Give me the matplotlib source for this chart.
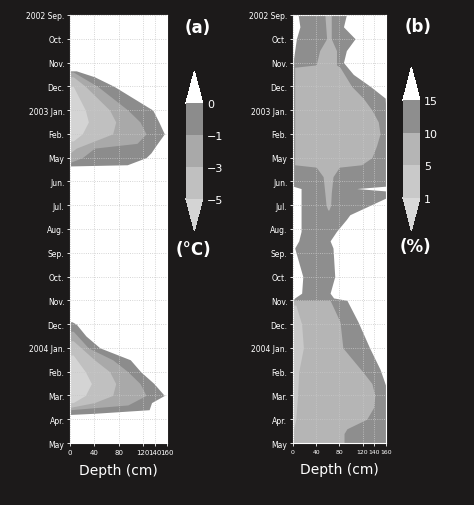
import numpy as np
import matplotlib as mpl

mpl.use("Agg")
import matplotlib.pyplot as plt
from matplotlib.colors import ListedColormap, BoundaryNorm
from matplotlib.colorbar import ColorbarBase

BG = "#1c1a1a"

# time axis: month ticks from Sep 2002 (0) to May 2004 (18)
month_labels = ["2002 Sep.", "Oct.", "Nov.", "Dec.", "2003 Jan.", "Feb.", "May", "Jun.",
                "Jul.", "Aug.", "Sep.", "Oct.", "Nov.", "Dec.", "2004 Jan.", "Feb.",
                "Mar.", "Apr.", "May"]
depth_ticks = [0, 40, 80, 120, 140, 160]

# ---- panel (a): soil temperature, isotherm depths (cm) vs time ----
# winter 2002/03
a1_t0 = [2.35, 2.6, 3.0, 3.5, 4.0, 4.5, 5.0, 5.5, 5.8, 6.0, 6.3, 6.35]
a1_t0d = [10, 40, 72, 104, 136, 146, 155, 141, 133, 125, 94, 0]
a1_t1 = [2.4, 3.0, 3.5, 4.0, 4.5, 5.0, 5.4, 5.6, 6.0, 6.2]
a1_t1d = [5, 45, 70, 95, 115, 125, 110, 40, 20, 0]
a1_t3 = [2.6, 3.0, 3.5, 4.0, 4.5, 5.0, 5.3, 5.6, 5.8]
a1_t3d = [5, 25, 45, 65, 75, 70, 40, 10, 0]
a1_t5 = [3.0, 3.5, 4.0, 4.5, 5.0, 5.3]
a1_t5d = [5, 15, 25, 30, 20, 5]
# winter 2003/04
a2_t0 = [12.9, 13.0, 13.5, 14.0, 14.5, 15.0, 15.5, 16.0, 16.3, 16.6, 16.75, 16.8]
a2_t0d = [3, 10, 26, 49, 99, 116, 138, 155, 134, 130, 40, 0]
a2_t1 = [13.3, 14.0, 14.5, 15.0, 15.5, 16.0, 16.4, 16.6]
a2_t1d = [5, 30, 70, 95, 115, 125, 95, 0]
a2_t3 = [13.7, 14.5, 15.0, 15.5, 16.0, 16.3, 16.5]
a2_t3d = [5, 40, 65, 75, 70, 40, 0]
a2_t5 = [14.3, 15.0, 15.5, 16.0, 16.3]
a2_t5d = [5, 25, 35, 25, 5]

# ---- panel (b): soil moisture, band edges (cm) vs time ----
b_dark_t = [0, 0.5, 1, 1.5, 2, 2.5, 3, 3.5, 4, 7.2, 7.3, 7.4, 7.7, 8.4, 8.6, 9.1, 9.5, 9.8, 11, 11.7, 11.9, 12.0, 12.9, 14.0, 14.9, 15.6, 18]
b_dark_l = [9, 12, 6, 3, 0, 0, 0, 0, 0, 0, 14, 14, 14, 14, 14, 14, 10, 3, 17, 15, 3, 0, 0, 0, 0, 0, 0]
b_dark_r = [92, 87, 107, 92, 87, 104, 133, 159, 160, 160, 110, 160, 160, 98, 92, 75, 64, 69, 72, 64, 70, 93, 112, 132, 150, 160, 160]
b_mid1_t = [0, 1, 1.5, 2.1, 2.2, 3, 3.5, 4, 4.5, 5, 5.5, 6, 6.3, 6.4, 6.8, 7.5, 8, 8.2]
b_mid1_l = [55, 58, 46, 40, 3, 3, 3, 3, 3, 3, 3, 3, 3, 40, 52, 55, 57, 60]
b_mid1_r = [66, 66, 75, 75, 81, 101, 121, 136, 147, 150, 144, 136, 118, 80, 69, 66, 65, 62]
b_mid2_t = [12.0, 12.9, 14.0, 14.5, 15.0, 15.5, 16.0, 16.5, 17.0, 17.4, 17.6, 18]
b_mid2_r = [64, 81, 86, 103, 120, 136, 141, 139, 127, 93, 88, 88]
b_lt_t = [12.2, 13.0, 14.0, 15.0, 16.0, 17.0, 17.5]
b_lt_r = [5, 15, 18, 10, 8, 5, 0]

a_levels = [-7, -5, -3, -1, 0]
a_colors = ["#d4d4d4", "#c0c0c0", "#a9a9a9", "#8c8c8c"]
b_levels = [1, 5, 10, 15]
b_colors = ["#c9c9c9", "#b5b5b5", "#8e8e8e"]

plt.rcParams.update({"font.family": "DejaVu Sans", "font.size": 6})
fig = plt.figure(figsize=(4.74, 5.06), dpi=100, facecolor=BG)


def base_axes(rect, xfs):
    ax = fig.add_axes(rect, facecolor="white")
    ax.set_xlim(0, 160)
    ax.set_ylim(18, 0)
    ax.set_yticks(range(len(month_labels)))
    ax.set_yticklabels(month_labels, color="white", fontsize=5.5)
    ax.set_xticks(depth_ticks)
    ax.set_xticklabels([str(v) for v in depth_ticks], color="white", fontsize=xfs)
    ax.tick_params(colors="white", length=2, width=0.6, pad=2)
    ax.grid(True, color="#c8c8c8", ls=":", lw=0.6)
    ax.set_axisbelow(False)
    for s in ax.spines.values():
        s.set_color("white")
    ax.set_xlabel("Depth (cm)", color="white", fontsize=10, labelpad=6)
    return ax


def prof(ax, t, d, color):
    ax.fill_betweenx(t, 0, d, color=color, lw=0, zorder=1)


ax1 = base_axes([0.148, 0.1225, 0.205, 0.846], 5)
for tt, dd, c in [(a1_t0, a1_t0d, a_colors[3]), (a1_t1, a1_t1d, a_colors[2]),
                  (a1_t3, a1_t3d, a_colors[1]), (a1_t5, a1_t5d, a_colors[0]),
                  (a2_t0, a2_t0d, a_colors[3]), (a2_t1, a2_t1d, a_colors[2]),
                  (a2_t3, a2_t3d, a_colors[1]), (a2_t5, a2_t5d, a_colors[0])]:
    prof(ax1, tt, dd, c)

ax2 = base_axes([0.618, 0.1225, 0.196, 0.846], 4.4)
ax2.fill_betweenx(b_dark_t, b_dark_l, b_dark_r, color=b_colors[2], lw=0, zorder=1)
ax2.fill_betweenx(b_mid1_t, b_mid1_l, b_mid1_r, color=b_colors[1], lw=0, zorder=1)
ax2.fill_betweenx(b_mid2_t, 0, b_mid2_r, color=b_colors[1], lw=0, zorder=1)
ax2.fill_betweenx(b_lt_t, 0, b_lt_r, color=b_colors[0], lw=0, zorder=1)


def cbar(rect, levels, colors, over, under, labels):
    cax = fig.add_axes(rect)
    cmap = ListedColormap(colors)
    cmap.set_over(over)
    cmap.set_under(under)
    norm = BoundaryNorm(levels, cmap.N)
    cb = ColorbarBase(cax, cmap=cmap, norm=norm, extend="both", extendfrac=0.34, ticks=levels)
    cb.ax.set_yticklabels(labels, color="white", fontsize=8)
    cb.ax.tick_params(length=0, pad=3)
    cb.outline.set_visible(False)
    return cb


cbar([0.392, 0.5415, 0.036, 0.316], a_levels[1:], a_colors[1:], "white", a_colors[0],
     ["\u22125", "\u22123", "\u22121", "0"])
cbar([0.850, 0.5415, 0.036, 0.324], b_levels, b_colors, "white", "#d9d9d9",
     ["1", "5", "10", "15"])

fig.text(0.418, 0.945, "(a)", color="white", fontsize=12, weight="bold", ha="center", va="center")
fig.text(0.408, 0.505, "(\u00b0C)", color="white", fontsize=12, weight="bold", ha="center", va="center")
fig.text(0.882, 0.947, "(b)", color="white", fontsize=12, weight="bold", ha="center", va="center")
fig.text(0.876, 0.512, "(%)", color="white", fontsize=12, weight="bold", ha="center", va="center")

fig.savefig("out.png", dpi=100, facecolor=BG)
